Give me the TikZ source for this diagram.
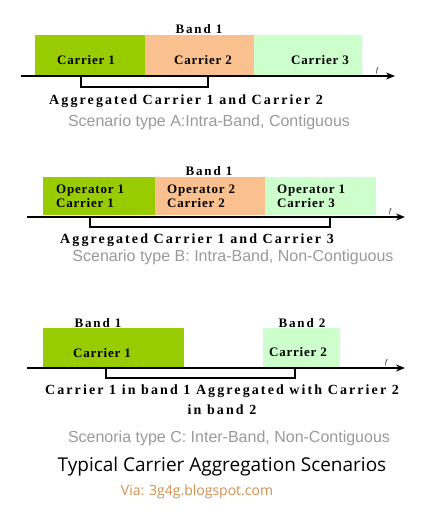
\documentclass[tikz,border=0pt]{standalone}
\usepackage{fontspec}
\setmainfont{Liberation Serif}
\newfontfamily\lblfont[LetterSpace=6]{Liberation Serif}
\newfontfamily\bandfont[LetterSpace=14]{Liberation Serif}
\newfontfamily\aggfont[LetterSpace=15]{Liberation Serif}
\newfontfamily\capfont{Liberation Sans}
\newfontfamily\ttlfont{Open Sans}
\usetikzlibrary{arrows.meta}
\definecolor{cgreen}{HTML}{99CC00}
\definecolor{cpeach}{HTML}{FAC090}
\definecolor{cmint}{HTML}{CCFFCC}
\definecolor{capgray}{HTML}{9A9A9A}
\definecolor{viaorange}{HTML}{D09050}
\tikzset{
  lbl/.style={inner sep=0pt,font=\lblfont\bfseries\fontsize{13}{14}\selectfont},
  bandlbl/.style={inner sep=0pt,font=\bandfont\bfseries\fontsize{13}{15}\selectfont},
  agg/.style={inner sep=0pt,font=\aggfont\bfseries\fontsize{14}{20}\selectfont},
  scen/.style={inner sep=0pt,text=capgray,font=\capfont\fontsize{16}{18}\selectfont},
  axis/.style={line width=1.6pt,-{Stealth[length=9pt,width=7pt]}},
  brk/.style={line width=2.2pt},
  flbl/.style={inner sep=0pt,font=\itshape\fontsize{7}{8}\selectfont}
}

\begin{document}
\begin{tikzpicture}[x=1pt,y=-1pt]
\path[use as bounding box,fill=white] (0,0) rectangle (439,514);
% scenario A
\fill[cgreen] (35,35) rectangle (145,75);
\fill[cpeach] (145,35) rectangle (254,75);
\fill[cmint] (254,35) rectangle (362,75);
\node[bandlbl] (bandA) at (199,29) {Band 1};
\node[lbl] (a1) at (86,60) {Carrier 1};
\node[lbl] (a2) at (203,60) {Carrier 2};
\node[lbl] (a3) at (320,60) {Carrier 3};
\coordinate (axA0) at (21,76);
\coordinate (axA1) at (395,76);
\draw[axis] (axA0) -- (axA1);
\node[flbl] (fA) at (377,71) {f};
\coordinate (brA0) at (81,76);
\coordinate (brA1) at (208,76);
\draw[brk] (brA0) -- ++(0,11) -| (brA1);
\node[agg] (aggA) at (186,101) {Aggregated Carrier 1 and Carrier 2};
\node[scen] (scA) at (209,122) {Scenario type A:Intra-Band, Contiguous};
% scenario B
\fill[cgreen] (43,177) rectangle (155,215);
\fill[cpeach] (155,177) rectangle (265,215);
\fill[cmint] (265,177) rectangle (376,215);
\node[bandlbl] (bandB) at (209,171) {Band 1};
\node[lbl,align=left,anchor=west] (b1) at (56,196) {Operator 1\\Carrier 1};
\node[lbl,align=left,anchor=west] (b2) at (167,196) {Operator 2\\Carrier 2};
\node[lbl,align=left,anchor=west] (b3) at (277,196) {Operator 1\\Carrier 3};
\coordinate (axB0) at (27,217);
\coordinate (axB1) at (405,217);
\draw[axis] (axB0) -- (axB1);
\node[flbl] (fB) at (390,212) {f};
\coordinate (brB0) at (90,217);
\coordinate (brB1) at (330,217);
\draw[brk] (brB0) -- ++(0,10) -| (brB1);
\node[agg] (aggB) at (197,240) {Aggregated Carrier 1 and Carrier 3};
\node[scen] (scB) at (233,257) {Scenario type B: Intra-Band, Non-Contiguous};
% scenario C
\fill[cgreen] (43,328) rectangle (184,367);
\fill[cmint] (263,328) rectangle (340,367);
\node[bandlbl] (bandC1) at (98,323) {Band 1};
\node[bandlbl] (bandC2) at (302,323) {Band 2};
\node[lbl] (c1) at (102,353) {Carrier 1};
\node[lbl] (c2) at (298,352) {Carrier 2};
\coordinate (axC0) at (27,368);
\coordinate (axC1) at (405,368);
\draw[axis] (axC0) -- (axC1);
\node[flbl] (fC) at (386,363) {f};
\coordinate (brC0) at (106,368);
\coordinate (brC1) at (295,368);
\draw[brk] (brC0) -- ++(0,10) -| (brC1);
\node[agg,align=center] (aggC) at (222,400) {Carrier 1 in band 1 Aggregated with Carrier 2\\in band 2};
\node[scen] (scC) at (229,438) {Scenoria type C: Inter-Band, Non-Contiguous};
% caption
\node[inner sep=0pt,font=\ttlfont\fontsize{19}{22}\selectfont] (ttl) at (222,467) {Typical Carrier Aggregation Scenarios};
\node[inner sep=0pt,text=viaorange,font=\ttlfont\fontsize{14}{16}\selectfont] (via) at (197,492) {Via: 3g4g.blogspot.com};
\end{tikzpicture}
\end{document}
